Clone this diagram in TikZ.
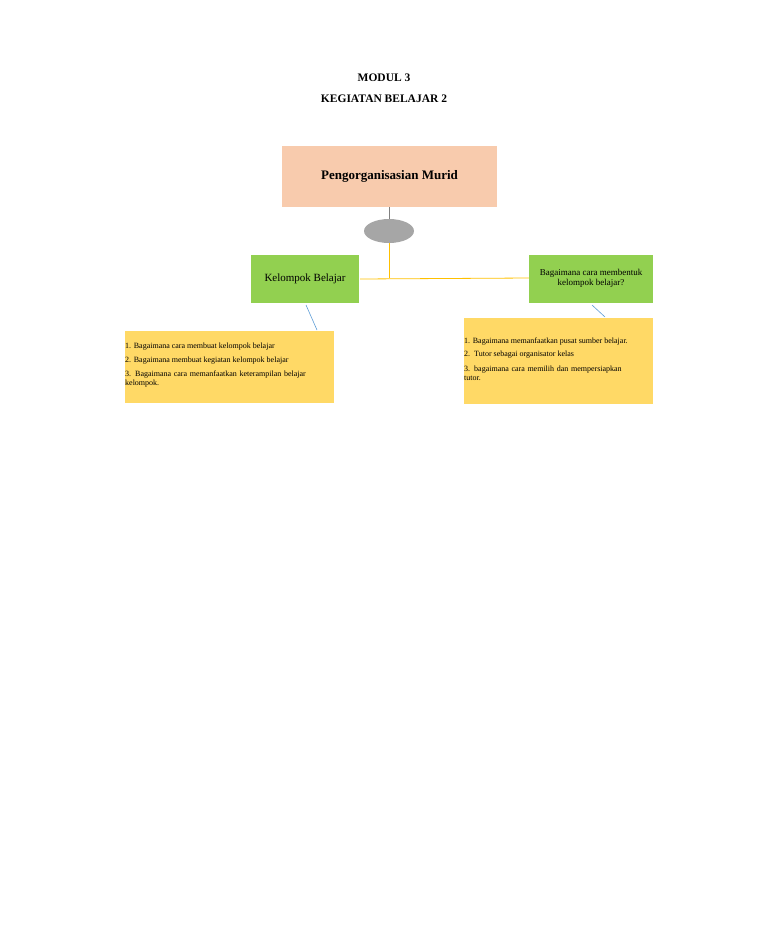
\documentclass[tikz,border=0pt]{standalone}
\usepackage{fontspec}
\setmainfont{Liberation Serif}
\usetikzlibrary{shapes.geometric}
\definecolor{pinkc}{HTML}{F8CBAD}
\definecolor{greenc}{HTML}{92D050}
\definecolor{yelc}{HTML}{FFD966}
\definecolor{orc}{HTML}{FFC000}
\definecolor{bluec}{HTML}{5B9BD5}
\begin{document}
\begin{tikzpicture}[x=1pt,y=-1pt,
  box/.style={inner sep=0pt,outer sep=0pt},
  item/.style={anchor=west,inner sep=0pt,font=\fontsize{8}{9}\selectfont,align=left}]
\useasboundingbox (0,0) rectangle (768,932);
\node[font=\bfseries\fontsize{11.5}{13}\selectfont] (t1) at (384,78) {MODUL 3};
\node[font=\bfseries\fontsize{11.5}{13}\selectfont] (t2) at (384,99) {KEGIATAN BELAJAR 2};
\fill[pinkc] (282,146) rectangle (497,207);
\node[font=\bfseries\fontsize{13}{15}\selectfont] (main) at (389.5,176.5) {Pengorganisasian Murid};
\coordinate (mb) at (389,207);
\node[ellipse,fill=gray!70,minimum width=50pt,minimum height=24pt,inner sep=0pt] (el) at (389,231) {};
\draw[gray,line width=0.6pt] (mb) -- (el.north);
\fill[greenc] (251,255) rectangle (359,303);
\node[font=\fontsize{11}{13}\selectfont] (kb) at (305,279) {Kelompok Belajar};
\fill[greenc] (529,255) rectangle (653,303);
\node[font=\fontsize{9}{10.5}\selectfont,align=center] (bq) at (591,278.5) {Bagaimana cara membentuk\\kelompok belajar?};
\coordinate (j) at (389,278);
\draw[orc,line width=0.8pt] (el.south) -- (j);
\draw[orc,line width=0.8pt] (360,279) -- (529,278);
\fill[yelc] (125,331) rectangle (334,403);
\fill[yelc] (464,318) rectangle (653,404);
\coordinate (l1) at (306,305); \coordinate (l2) at (317,330);
\coordinate (r1) at (592,305); \coordinate (r2) at (605,317);
\draw[bluec,line width=0.6pt] (l1) -- (l2);
\draw[bluec,line width=0.6pt] (r1) -- (r2);
\node[item] (a1) at (125,347) {1. Bagaimana cara membuat kelompok belajar};
\node[item] (a2) at (125,361) {2. Bagaimana membuat kegiatan kelompok belajar};
\node[item,text width=210pt] (a3) at (125,379) {3. Bagaimana cara memanfaatkan keterampilan belajar\\kelompok.};
\node[item] (b1) at (464,342) {1. Bagaimana memanfaatkan pusat sumber belajar.};
\node[item] (b2) at (464,355) {2.\ \ Tutor sebagai organisator kelas};
\node[item,text width=190pt] (b3) at (464,373) {3. bagaimana cara memilih dan mempersiapkan\\tutor.};
\end{tikzpicture}
\end{document}
